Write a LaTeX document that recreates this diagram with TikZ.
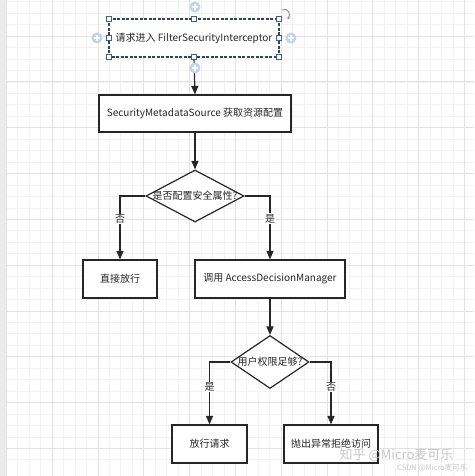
\documentclass[tikz,border=0pt]{standalone}
\usepackage{fontspec}
\setmainfont{Noto Sans CJK SC}
\usetikzlibrary{arrows.meta,shapes.geometric,calc}
\definecolor{gridminor}{HTML}{F2F2F2}
\definecolor{gridmajor}{HTML}{E2E2E2}
\definecolor{handle}{HTML}{3F6184}
\definecolor{plusblue}{HTML}{BCD5F3}
\definecolor{wm}{HTML}{C8C8C8}
\tikzset{
  box/.style={draw=black!85,line width=1.2pt,fill=white,inner sep=0pt,font=\fontsize{10}{12}\selectfont,text=black!85},
  dec/.style={diamond,draw=black!85,line width=1.2pt,fill=white,inner sep=0pt,font=\fontsize{10}{12}\selectfont,text=black!85},
  flow/.style={draw=black!85,line width=1.2pt,-{Triangle[length=8.5pt,width=7pt]}},
  lbl/.style={fill=white,inner sep=1pt,font=\fontsize{10}{12}\selectfont,text=black!85},
  hnd/.style={draw=handle,fill=white,line width=0.6pt,minimum size=4.5pt,inner sep=0pt},
  plus/.style={circle,fill=plusblue,minimum size=11pt,inner sep=0pt},
}
\begin{document}
\begin{tikzpicture}[x=1pt,y=-1pt]
\useasboundingbox (0,0) rectangle (474,476);
\fill[white] (0,0) rectangle (474,476);
% grid
\foreach \i in {-4,...,37} {\draw[gridminor,line width=0.5pt] ({52+11.45*\i},0) -- ({52+11.45*\i},476);}
\foreach \i in {-3,...,37} {\draw[gridminor,line width=0.5pt] (0,{36+11.45*\i}) -- (474,{36+11.45*\i});}
\foreach \i in {-1,...,9} {\draw[gridmajor,line width=0.6pt] ({52+45.8*\i},0) -- ({52+45.8*\i},476);}
\foreach \i in {-1,...,9} {\draw[gridmajor,line width=0.6pt] (0,{36+45.8*\i}) -- (474,{36+45.8*\i});}
\fill[black!8] (0,0) rectangle (6,476);

% nodes
\node[box,draw=none,minimum width=170pt,minimum height=38pt] (start) at (194,38) {请求进入 FilterSecurityInterceptor};
\draw[handle!70!black,line width=1.2pt,dash pattern=on 3pt off 1.5pt] (109,19) rectangle (279,57);
\node[box,minimum width=192pt,minimum height=37pt] (meta) at (195,113.5) {SecurityMetadataSource 获取资源配置};
\node[dec,minimum width=98pt,minimum height=52pt,aspect=1.9] (q1) at (195,196) {};
\node[font=\fontsize{10}{12}\selectfont,text=black!85] (q1t) at (195,196) {是否配置安全属性?};
\node[box,minimum width=74pt,minimum height=38pt] (pass) at (120,279) {直接放行};
\node[box,minimum width=150pt,minimum height=38pt] (adm) at (270,279) {调用 AccessDecisionManager};
\node[dec,minimum width=78pt,minimum height=53pt,aspect=1.5] (q2) at (270,362) {};
\node[font=\fontsize{10}{12}\selectfont,text=black!85] (q2t) at (270,362) {用户权限足够?};
\node[box,minimum width=75pt,minimum height=38pt] (ok) at (209.5,444) {放行请求};
\node[box,minimum width=94pt,minimum height=38pt] (deny) at (331,444) {抛出异常拒绝访问};

% connectors
\draw[flow] (start.south) -- (meta.north);
\draw[flow] (meta.south) -- (q1.north);
\draw[flow] (q1.west) -| node[lbl,pos=0.68] {否} (pass.north);
\draw[flow] (q1.east) -| node[lbl,pos=0.68] {是} (adm.north);
\draw[flow] (adm.south) -- (q2.north);
\draw[flow] (q2.west) -| node[lbl,pos=0.7] {是} (ok.north);
\draw[flow] (q2.east) -| node[lbl,pos=0.7] {否} (deny.north);

% selection handles
\foreach \p [count=\k] in {(109,19),(194,19),(279,19),(109,38),(279,38),(109,57),(194,57),(279,57)} {\node[hnd] (h\k) at \p {};}
\foreach \p [count=\k] in {(195,7),(97,38),(291,38),(195,68)} {
  \node[plus] (p\k) at \p {};
  \draw[white,line width=1.2pt] ($(p\k)+(-3,0)$) -- ($(p\k)+(3,0)$);
  \draw[white,line width=1.2pt] ($(p\k)+(0,-3)$) -- ($(p\k)+(0,3)$);
}
\coordinate (rotc) at (287,14);
\draw[black!45,line width=0.9pt,-{Stealth[length=2.5pt,width=2.5pt]}] ($(rotc)+(-5,-4)$) arc[start angle=120,end angle=-60,radius=5pt];

% watermarks
\node[text=wm,font=\fontsize{13}{15}\selectfont,anchor=east] (wm1) at (457,455) {知乎 @Micro麦可乐};
\node[text=wm,font=\fontsize{7.5}{9}\selectfont,anchor=east] (wm2) at (471,468) {CSDN @Micro麦可乐};
\end{tikzpicture}
\end{document}
